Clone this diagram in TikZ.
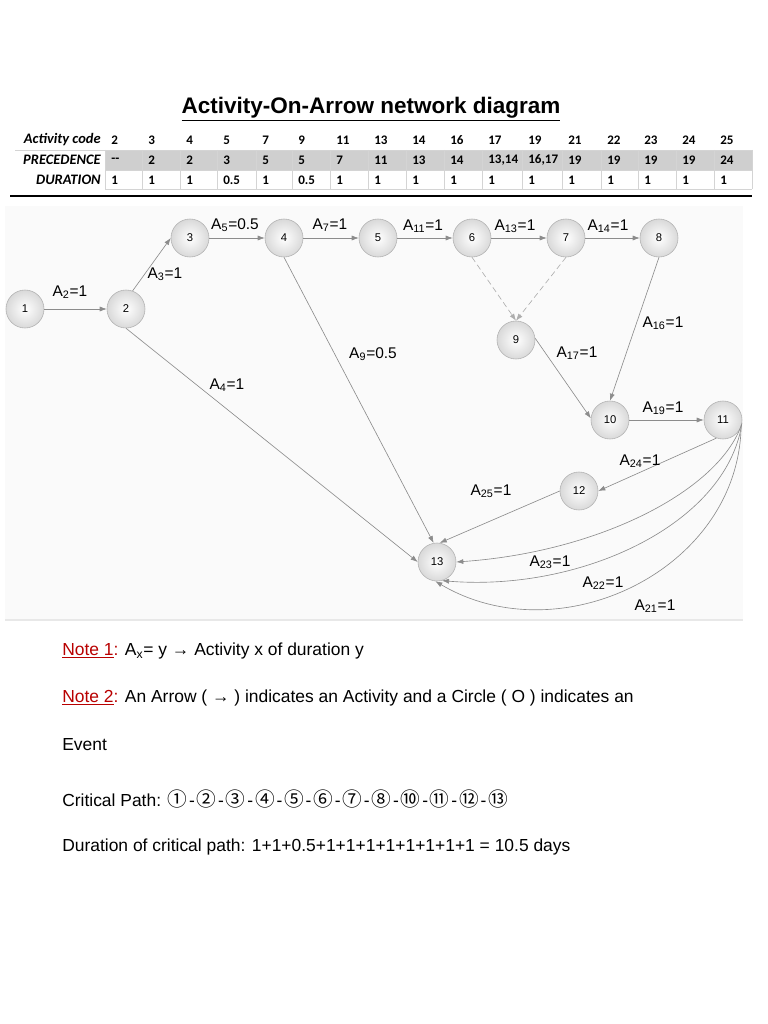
\documentclass[tikz,border=0pt]{standalone}
\usepackage{fontspec}
\setmainfont{Liberation Sans}
\newfontfamily\tablefont{Carlito}
\newfontfamily\cjkfont{Noto Sans CJK SC}
\usetikzlibrary{arrows.meta, positioning}
\definecolor{noteRed}{HTML}{B80000}
\tikzset{%
>={Latex[length=5pt,width=3.6pt]},
  % Specifications for the events and the activities:
            event/.style = {circle, draw=black!30, inner color=white,
                            outer color=black!15, minimum size=0.95cm,
                            inner sep=0pt, font=\fontsize{8}{9}\selectfont},
            actlabel/.style = {inner sep=0pt, font=\fontsize{11}{13}\selectfont},
            activity/.style = {draw=black!45, line width=0.45pt, ->},
            dummy/.style = {activity, draw=black!32, dash pattern=on 4pt off 2.5pt},
  % Specifications for the table and the notes:
            rowhead/.style = {anchor=east, inner sep=0pt,
                            font=\tablefont\bfseries\itshape\fontsize{10.3}{12}\selectfont},
            cell/.style = {anchor=west, inner sep=0pt,
                            font=\tablefont\bfseries\fontsize{9.3}{11}\selectfont},
            gridline/.style = {draw=black!17, line width=0.6pt},
            notetext/.style = {anchor=west, inner sep=0pt, font=\fontsize{12.4}{15}\selectfont}
}
\newcommand{\actlbl}[2]{A\textsubscript{#1}=#2}
\newcommand{\notehead}[1]{\textcolor{noteRed}{\underline{#1}:}}
\newcommand{\cpnum}[1]{{\cjkfont\fontsize{14}{15}\selectfont #1}}
\newcommand{\cpdash}{\hspace{1.3pt}-\hspace{1.3pt}}

\begin{document}
\begin{tikzpicture}[x=0.025cm, y=-0.025cm]
                \useasboundingbox (0,0) rectangle (768,1024);

                % title and table
                \node[anchor=base, inner sep=0pt, font=\bfseries\fontsize{16}{19}\selectfont] (title) at (371,114)
                    {\underline{Activity-On-Arrow network diagram}};

                \fill[black!19] (105,150) rectangle (752,170);
                \draw[gridline] (15,150) -- (752,150);
                \draw[gridline] (105,170) -- (752,170);
                \draw[gridline] (105,189) -- (752,189);
                \node[rowhead] (hcode) at (101,140) {Activity code};
                \node[rowhead] (hprec) at (101,160) {PRECEDENCE};
                \node[rowhead] (hdur) at (101,180) {DURATION};
                \foreach \code/\prec/\dur/\xl [count=\i] in {2/{-}{-}/1/105, 3/2/1/142, 4/2/1/180,
                        5/3/0.5/217, 7/5/1/256, 9/5/0.5/292, 11/7/1/330, 13/11/1/368, 14/13/1/406,
                        16/14/1/444, 17/{13,14}/1/482, 19/{16,17}/1/522, 21/19/1/562, 22/19/1/601,
                        23/19/1/638, 24/19/1/676, 25/24/1/714}{
                    \draw[gridline] (\xl,150) -- (\xl,189);
                    \node[cell] (code\i) at (\xl+6,140) {\code};
                    \node[cell] (prec\i) at (\xl+6,160) {\prec};
                    \node[cell] (dur\i) at (\xl+6,180) {\dur};
                }
                \draw[gridline] (752,150) -- (752,189);
                \draw[line width=1.8pt] (10,196) -- (752,196);

                % network
                \fill[black!2] (5,206) rectangle (743,620);
                \draw[black!9, line width=0.8pt] (5,620) -- (743,620);

                \node[event] (e1) at (25,309) {1};
                \node[event] (e2) at (126,309) {2};
                \node[event] (e3) at (190,238) {3};
                \node[event] (e4) at (284,238) {4};
                \node[event] (e5) at (378,238) {5};
                \node[event] (e6) at (472,238) {6};
                \node[event] (e7) at (566,238) {7};
                \node[event] (e8) at (659,238) {8};
                \node[event] (e9) at (516,340) {9};
                \node[event] (e10) at (610,420) {10};
                \node[event] (e11) at (723,420) {11};
                \node[event] (e12) at (579,491) {12};
                \node[event] (e13) at (437,562) {13};

                \draw[activity] (e1) -- (e2);
                \draw[activity] (e2.70) -- (e3.west);
                \draw[activity] (e3) -- (e4);
                \draw[activity] (e4) -- (e5);
                \draw[activity] (e5) -- (e6);
                \draw[activity] (e6) -- (e7);
                \draw[activity] (e7) -- (e8);
                \draw[dummy] (e6.south) -- (e9.north);
                \draw[dummy] (e7.south) -- (e9.north);
                \draw[activity] (e8.south) -- (e10.north);
                \draw[activity] (e9.5) -- (e10.175);
                \draw[activity] (e10) -- (e11);
                \draw[activity] (e4.south) -- (e13.100);
                \draw[activity] (e2.south) -- (e13.180);
                \draw[activity] (e11.250) -- (e12.east);
                \draw[activity] (e12.west) -- (e13.82);
                \draw[activity] (e11.-10) .. controls (720,490) and (600,552) .. (e13.east);
                \draw[activity] (e11.-15) .. controls (725,525) and (580,592) .. (e13.-75);
                \draw[activity] (e11.-20) .. controls (738,570) and (560,655) .. (e13.-95);

                \node[actlabel] (l2) at (70,292) {\actlbl{2}{1}};
                \node[actlabel] (l3) at (165,274) {\actlbl{3}{1}};
                \node[actlabel] (l5) at (235,225) {\actlbl{5}{0.5}};
                \node[actlabel] (l7) at (330,225) {\actlbl{7}{1}};
                \node[actlabel] (l11) at (423,226) {\actlbl{11}{1}};
                \node[actlabel] (l13) at (515,226) {\actlbl{13}{1}};
                \node[actlabel] (l14) at (608,226) {\actlbl{14}{1}};
                \node[actlabel] (l9) at (373,354) {\actlbl{9}{0.5}};
                \node[actlabel] (l4) at (227,385) {\actlbl{4}{1}};
                \node[actlabel] (l16) at (663,323) {\actlbl{16}{1}};
                \node[actlabel] (l17) at (577,353) {\actlbl{17}{1}};
                \node[actlabel] (l19) at (663,408) {\actlbl{19}{1}};
                \node[actlabel] (l24) at (640,461) {\actlbl{24}{1}};
                \node[actlabel] (l25) at (491,491) {\actlbl{25}{1}};
                \node[actlabel] (l23) at (550,562) {\actlbl{23}{1}};
                \node[actlabel] (l22) at (603,583) {\actlbl{22}{1}};
                \node[actlabel] (l21) at (655,606) {\actlbl{21}{1}};

                % notes
                \node[notetext] (note1) at (62,651)
                    {\notehead{Note 1} A\textsubscript{x}= y \textrightarrow{} Activity x of duration y};
                \node[notetext] (note2) at (62,698)
                    {\notehead{Note 2} An Arrow ( \textrightarrow{} ) indicates an Activity and a Circle ( O ) indicates an};
                \node[notetext] (event) at (62,745) {Event};
                \node[notetext] (critpath) at (62,799)
                    {Critical Path: \cpnum{①}\cpdash\cpnum{②}\cpdash\cpnum{③}\cpdash\cpnum{④}\cpdash\cpnum{⑤}\cpdash\cpnum{⑥}\cpdash\cpnum{⑦}\cpdash\cpnum{⑧}\cpdash\cpnum{⑩}\cpdash\cpnum{⑪}\cpdash\cpnum{⑫}\cpdash\cpnum{⑬}};
                \node[notetext] (critdur) at (62,847)
                    {Duration of critical path: 1+1+0.5+1+1+1+1+1+1+1+1 = 10.5 days};

            \end{tikzpicture}
\end{document}
